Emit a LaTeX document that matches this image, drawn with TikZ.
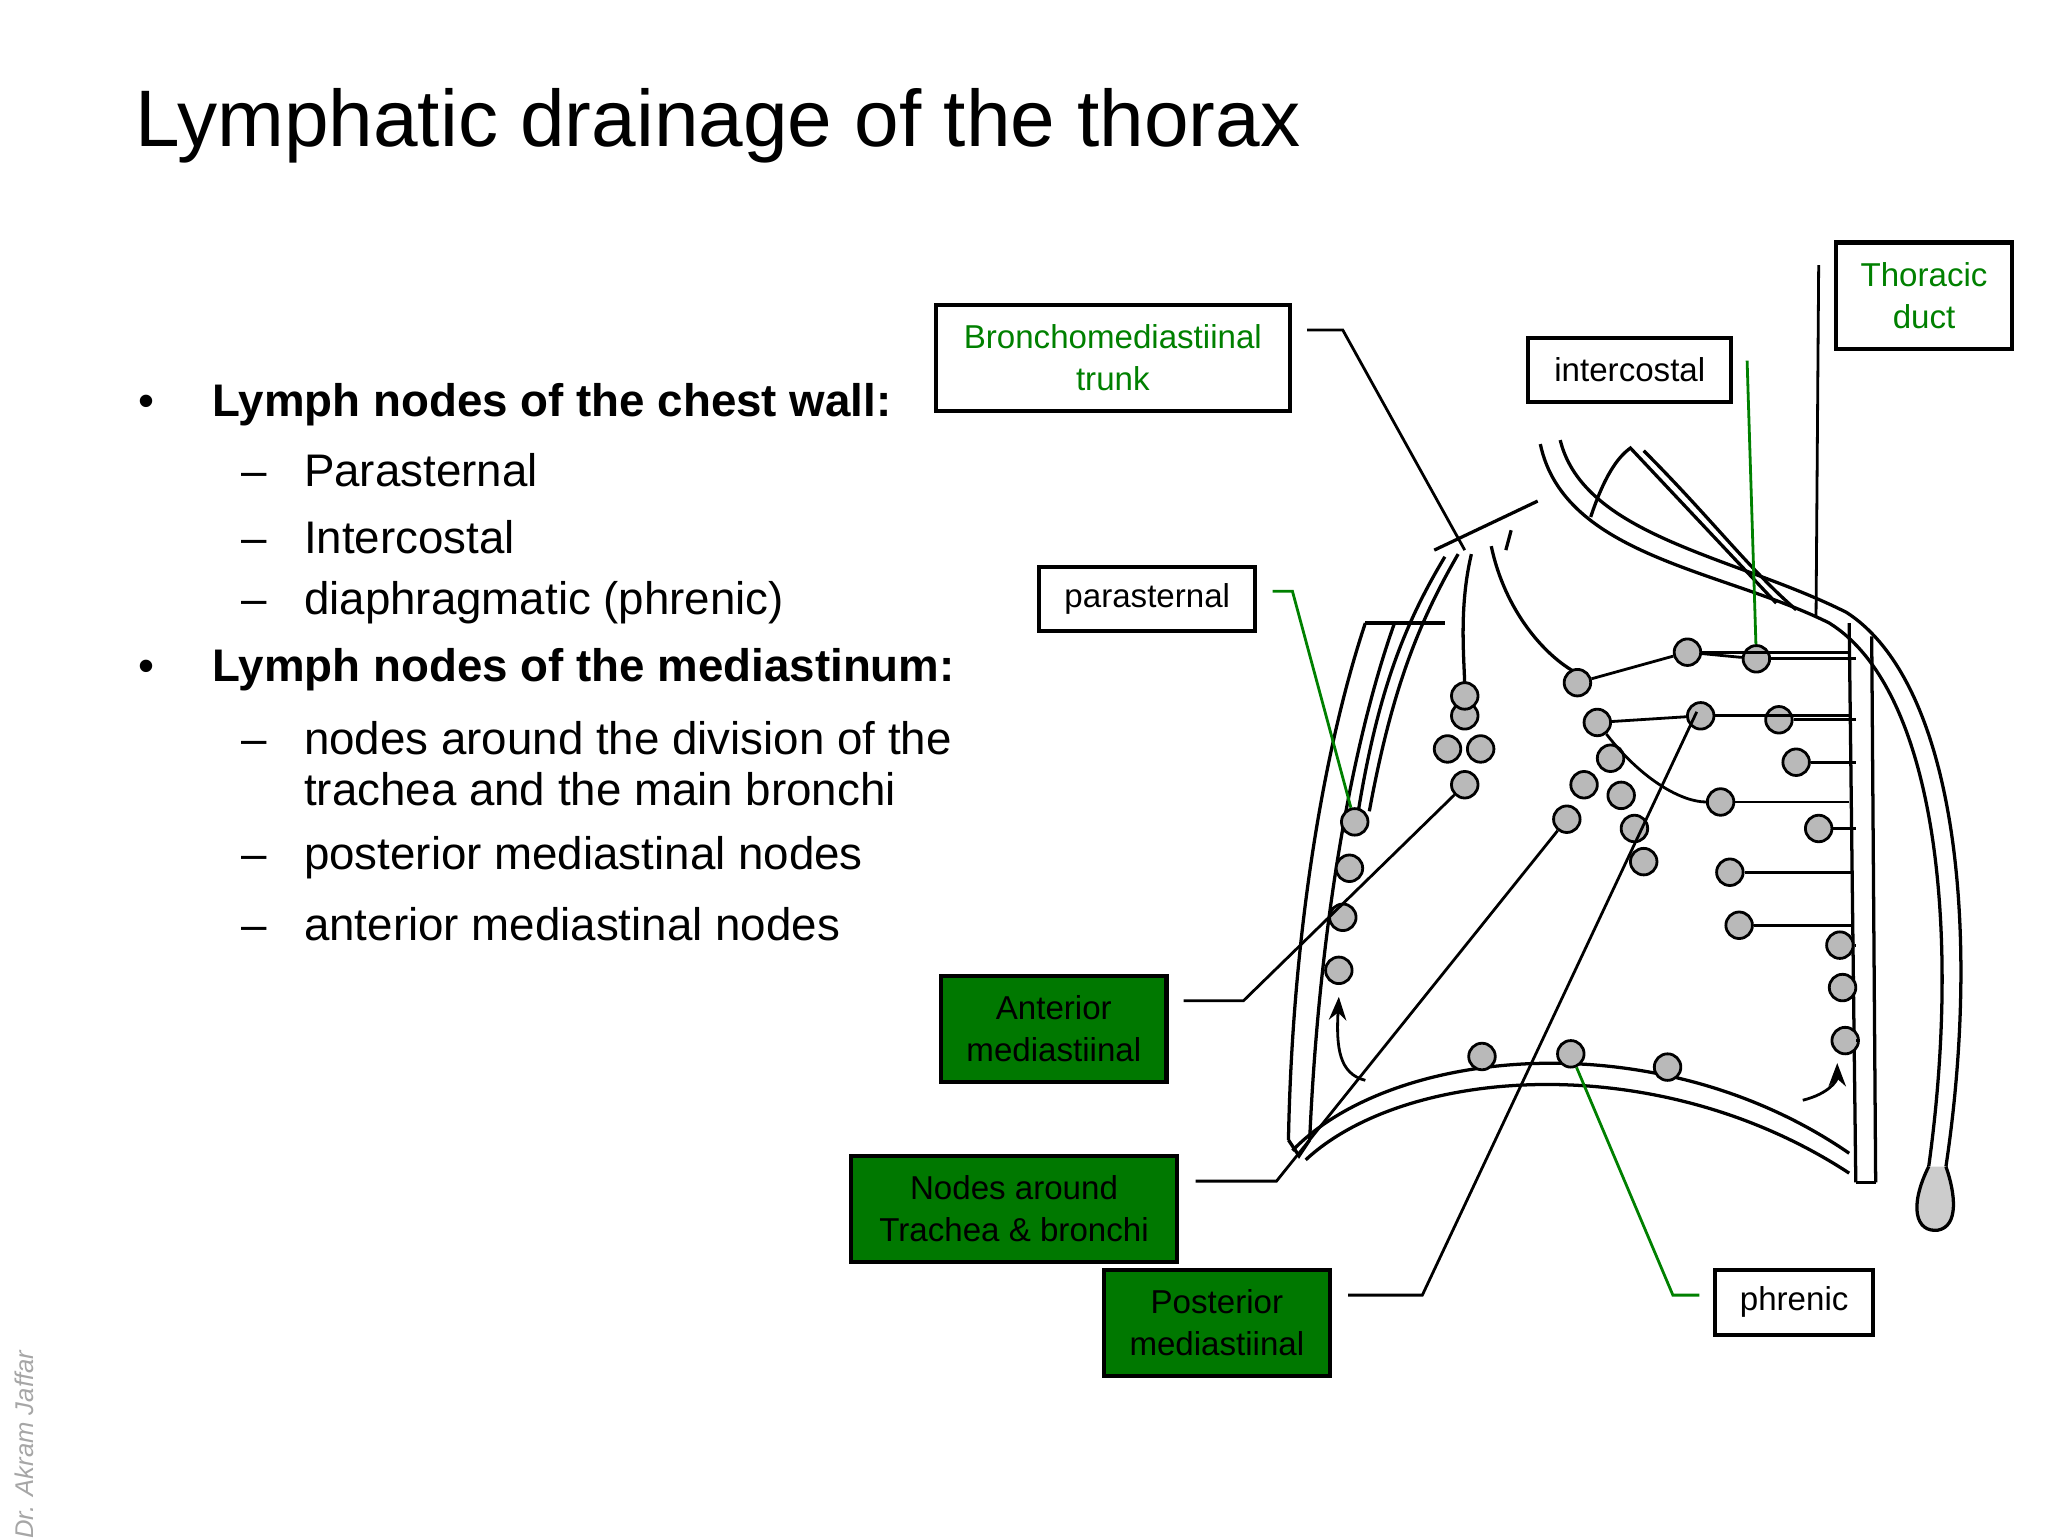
\documentclass[tikz,border=0pt]{standalone}
\usepackage{fontspec}
\setmainfont{Liberation Sans}
\usetikzlibrary{arrows.meta}
\definecolor{dg}{RGB}{0,128,0}
\definecolor{fg}{RGB}{0,120,0}
\newcommand{\dsh}{\makebox[0.47cm][l]{--}}
\begin{document}
\begin{tikzpicture}[x=0.01cm,y=-0.01cm,
  wbox/.style={draw,line width=0.9pt,fill=white,align=center,font=\fontsize{7.1}{9}\selectfont,inner sep=0pt},
  gbox/.style={draw,line width=0.9pt,fill=fg,align=center,font=\fontsize{7.1}{9}\selectfont,inner sep=0pt},
  lead/.style={line width=0.6pt},
  glead/.style={line width=0.6pt,draw=dg},
  lymph/.style={circle,draw,line width=0.6pt,fill=gray!55,minimum size=0.2cm,inner sep=0pt},
  bone/.style={line width=0.7pt},
  btxt/.style={anchor=west,font=\fontsize{9.8}{12}\selectfont},
  stxt/.style={anchor=west,font=\fontsize{9.8}{12}\selectfont}]
\useasboundingbox (0,0) rectangle (1545,1160);
\node[anchor=west,font=\fontsize{17.2}{21}\selectfont] (title) at (90,95) {Lymphatic drainage of the thorax};
\node[btxt] (t1) at (92,305) {\makebox[0.56cm][l]{•}\textbf{Lymph nodes of the chest wall:}};
\node[stxt] (s1) at (170,355) {\dsh Parasternal};
\node[stxt] (s2) at (170,405) {\dsh Intercostal};
\node[stxt] (s3) at (170,455) {\dsh diaphragmatic (phrenic)};
\node[btxt] (t2) at (92,505) {\makebox[0.56cm][l]{•}\textbf{Lymph nodes of the mediastinum:}};
\node[stxt,align=left] (s4) at (170,576) {\dsh nodes around the division of the\\[-1pt]\hspace*{0.47cm}trachea and the main bronchi};
\node[stxt] (s5) at (170,647) {\dsh posterior mediastinal nodes};
\node[stxt] (s6) at (170,697) {\dsh anterior mediastinal nodes};
\node[rotate=90,font=\itshape\fontsize{5.5}{6}\selectfont,text=gray!70] (wm) at (18,1090) {Dr. Akram Jaffar};
% ---- thorax drawing ----
\draw[bone] (1030,470) .. controls (1000,560) and (975,700) .. (972,860);
\draw[bone] (1052,470) .. controls (1020,560) and (995,700) .. (988,860);
\draw[bone] (1030,470) -- (1052,470) -- (1090,470);
\draw[bone] (972,860) -- (980,872) -- (988,860);
\draw[bone] (975,868) .. controls (1050,790) and (1250,770) .. (1395,870);
\draw[bone] (985,875) .. controls (1060,805) and (1250,790) .. (1395,885);
\draw[bone] (1395,470) -- (1400,892); \draw[bone] (1412,480) -- (1415,892);
\draw[bone] (1400,892) -- (1415,892);
\draw[bone] (1162,335) .. controls (1180,420) and (1300,430) .. (1380,470) .. controls (1460,520) and (1480,700) .. (1455,880);
\draw[bone] (1177,332) .. controls (1195,405) and (1310,420) .. (1393,462) .. controls (1475,515) and (1495,700) .. (1468,880);
\draw[bone,fill=gray!40] (1455,880) .. controls (1440,910) and (1445,930) .. (1462,928) .. controls (1478,925) and (1475,900) .. (1468,880);
\draw[bone] (1200,390) .. controls (1210,360) and (1220,345) .. (1230,338) -- (1340,455);
\draw[bone] (1240,340) .. controls (1290,390) and (1320,430) .. (1355,460);
\draw[bone] (1082,415) -- (1160,378);
\draw[bone] (1090,420) .. controls (1060,470) and (1040,520) .. (1025,610);
\draw[bone] (1100,418) .. controls (1070,470) and (1050,520) .. (1033,612);
\draw[bone] (1110,418) .. controls (1100,460) and (1105,500) .. (1105,520);
\draw[bone] (1125,412) .. controls (1135,460) and (1165,495) .. (1190,508);
\draw[bone] (1140,400) -- (1136,415);
\foreach \p [count=\i] in {(1022,620),(1018,655),(1013,692),(1010,732),
  (1105,540),(1092,565),(1117,565),(1105,592),(1105,525),
  (1190,515),(1205,545),(1215,572),(1195,592),(1182,618),(1223,600),(1233,625),(1240,650),
  (1273,492),(1325,497),(1283,540),(1342,543),(1298,605),(1355,575),(1372,625),(1305,658),(1312,698),(1388,713),(1390,745),(1392,785),
  (1118,797),(1185,795),(1258,805)}
  \node[lymph] (n\i) at \p {};
\foreach \a/\b in {18/1395,19/1400,21/1400,23/1400,24/1400,27/1400,28/1400,29/1400,20/1395,22/1395,25/1398,26/1398}
  \draw[line width=0.6pt] (n\a) -- (\b,0 |- n\a);
\draw[line width=0.6pt] (n10) -- (n18); \draw[line width=0.6pt] (n11) -- (n20);
\draw[line width=0.6pt] (n11) .. controls (1240,590) and (1270,605) .. (n22);
\draw[line width=0.6pt] (n19) -- (n18);
\draw[line width=0.6pt,-{Stealth[length=5pt]}] (1030,815) .. controls (1010,810) and (1008,790) .. (1010,752);
\draw[line width=0.6pt,-{Stealth[length=5pt]}] (1360,830) .. controls (1380,825) and (1386,815) .. (1386,802);
% ---- boxes ----
\node[wbox,text=dg,minimum width=2.67cm,minimum height=0.8cm] (bt) at (839.5,270) {Bronchomediastiinal\\trunk};
\node[wbox,minimum width=1.53cm,minimum height=0.48cm] (ic) at (1229.5,279) {intercostal};
\node[wbox,text=dg,minimum width=1.33cm,minimum height=0.8cm] (td) at (1451.5,223) {Thoracic\\duct};
\node[wbox,minimum width=1.63cm,minimum height=0.48cm] (ps) at (865.5,452) {parasternal};
\node[gbox,minimum width=1.70cm,minimum height=0.8cm] (am) at (795,776) {Anterior\\mediastiinal};
\node[gbox,minimum width=2.46cm,minimum height=0.8cm] (na) at (765,912) {Nodes around\\Trachea \& bronchi};
\node[gbox,minimum width=1.70cm,minimum height=0.8cm] (pm) at (918,998) {Posterior\\mediastiinal};
\node[wbox,minimum width=1.19cm,minimum height=0.49cm] (ph) at (1353.5,982.5) {phrenic};
\coordinate (c1) at (1105,415); \draw[lead] (986,249) -- (1013,249) -- (c1);
\draw[glead] (1318,272) -- (n19);
\coordinate (c2) at (1370,465); \draw[lead] (1372,200) -- (c2);
\draw[glead] (960,446) -- (975,446) -- (n1);
\draw[lead] (893,755) -- (938,755) -- (n8);
\draw[lead] (902,891) -- (963,891) -- (n14);
\coordinate (c3) at (1280,537); \draw[lead] (1017,977) -- (1073,977) -- (c3);
\draw[glead] (1282,977) -- (1262,977) -- (n31);
\end{tikzpicture}
\end{document}
